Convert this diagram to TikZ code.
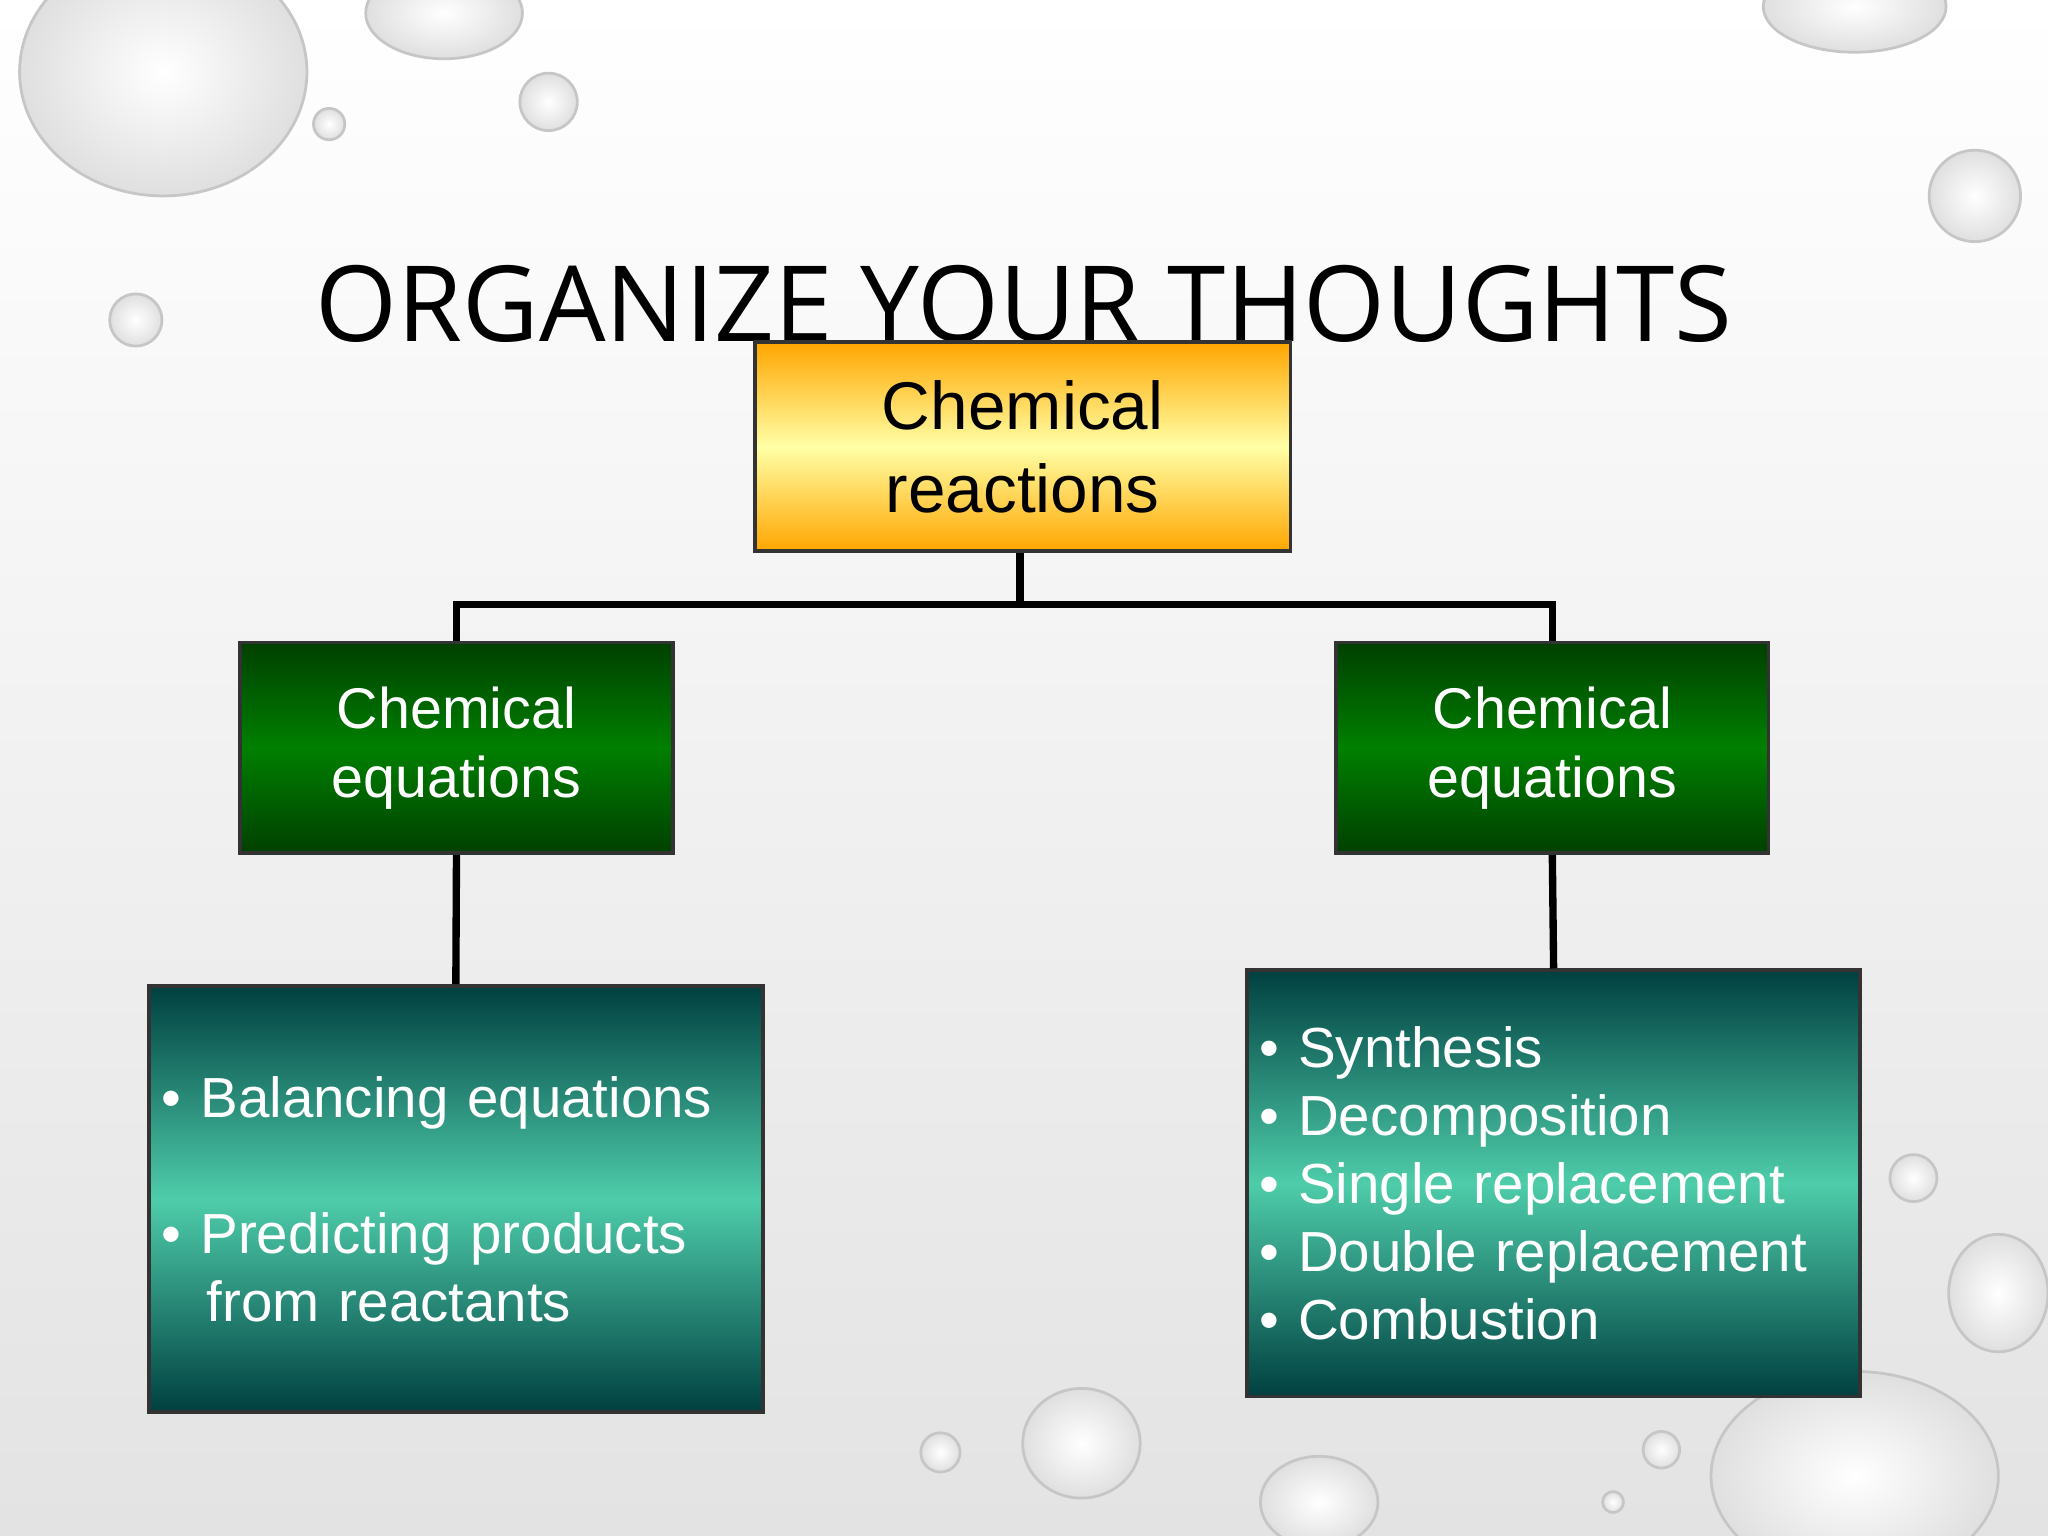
\documentclass[tikz,border=0pt]{standalone}
\usepackage{fontspec}
\setmainfont{Liberation Sans}
\newfontfamily\titlefont{Open Sans}
\begin{document}
\begin{tikzpicture}[x=0.01cm,y=-0.01cm,
  box/.style={draw=black!80,line width=0.8pt,align=center,inner sep=0pt},
  ybox/.style={box,top color=orange!70!yellow,bottom color=orange!70!yellow,middle color=yellow!35,font=\fontsize{14.7pt}{18pt}\selectfont},
  gbox/.style={box,top color=green!25!black,bottom color=green!25!black,middle color=green!50!black,text=white,font=\fontsize{12.5pt}{15pt}\selectfont},
  tbox/.style={box,top color=teal!50!black,bottom color=teal!50!black,middle color={rgb,255:red,78;green,205;blue,170},text=white,font=\fontsize{12.3pt}{14.8pt}\selectfont,align=left},
  link/.style={line width=1.6pt},
  drop/.style={draw=gray!45,inner color=white,outer color=gray!25,line width=0.6pt}]
\useasboundingbox (0,0) rectangle (1568,1176);
\fill[top color=white,bottom color=gray!22] (0,0) rectangle (1568,1176);
% drops
\shade[drop] (125,55) ellipse (110 and 95);
\shade[drop] (340,10) ellipse (60 and 35);
\shade[drop] (420,78) circle (22);
\shade[drop] (252,95) circle (12);
\shade[drop] (104,245) circle (20);
\shade[drop] (1512,150) circle (35);
\shade[drop] (1420,5) ellipse (70 and 35);
\shade[drop] (1465,902) circle (18);
\shade[drop] (1530,990) ellipse (38 and 45);
\shade[drop] (828,1105) ellipse (45 and 42);
\shade[drop] (720,1112) circle (15);
\shade[drop] (1010,1150) ellipse (45 and 35);
\shade[drop] (1272,1110) circle (14);
\shade[drop] (1420,1130) ellipse (110 and 80);
\shade[drop] (1235,1150) circle (8);
\node (title) at (784,233) {\titlefont\fontsize{22.9pt}{26pt}\selectfont ORGANIZE YOUR THOUGHTS};
\node[ybox,minimum width=4.1cm,minimum height=1.6cm] (top) at (783,342) {Chemical\\reactions};
\node[gbox,minimum width=3.31cm,minimum height=1.61cm] (gl) at (349.5,572.5) {Chemical\\equations};
\node[gbox,minimum width=3.31cm,minimum height=1.61cm] (gr) at (1188.5,572.5) {Chemical\\equations};
\node[tbox,minimum width=4.7cm,minimum height=3.26cm,text width=4.5cm] (bl) at (349,918) {%
\textbullet\ Balancing equations\\[14.8pt]
\textbullet\ Predicting products\\\hspace*{0.8em}from reactants};
\node[tbox,minimum width=4.69cm,minimum height=3.26cm,text width=4.5cm] (br) at (1189.5,906) {%
\textbullet\ Synthesis\\\textbullet\ Decomposition\\\textbullet\ Single replacement\\\textbullet\ Double replacement\\\textbullet\ Combustion};
\coordinate (m) at (781,463);
\draw[link] (top.south -| m) -- (m);
\draw[link] (gl.north) |- (m) -| (gr.north);
\draw[link] (gl.south) -- (bl.north);
\draw[link] (gr.south) -- (br.north);
\end{tikzpicture}
\end{document}
